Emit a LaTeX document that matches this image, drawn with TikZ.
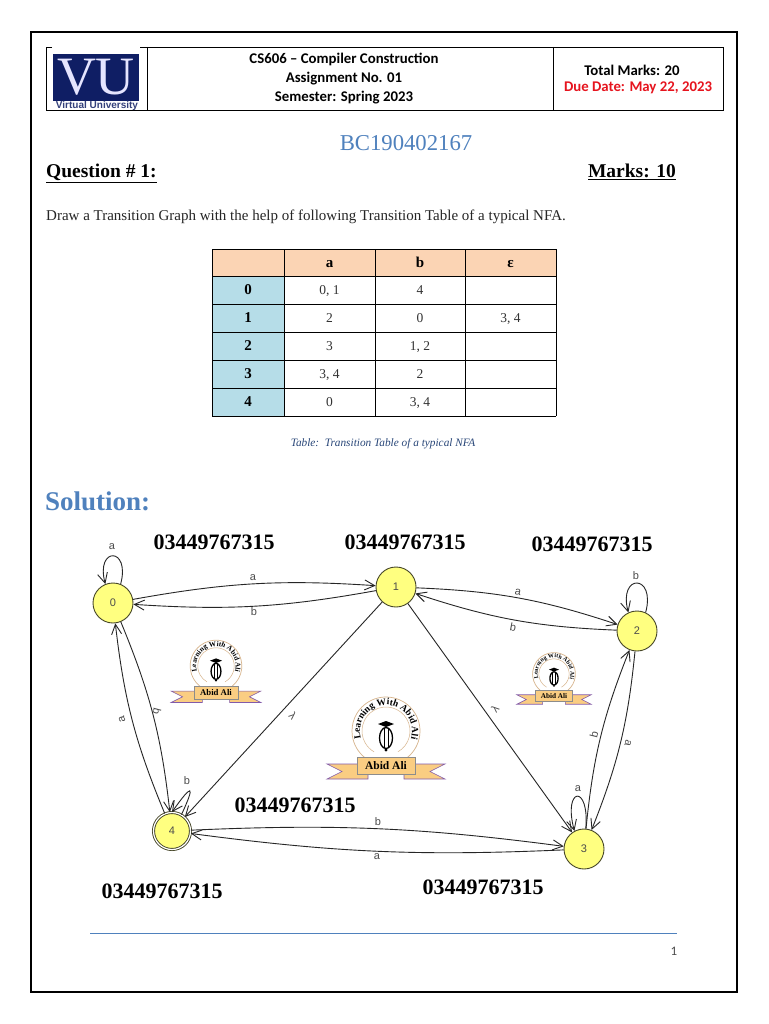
\documentclass[tikz,border=0pt]{standalone}
\usepackage{xcolor}
\usepackage{fontspec}
\setmainfont{Liberation Serif}
\newfontfamily\calibrifont{Carlito}
\newfontfamily\arialfont{Liberation Sans}
\usetikzlibrary{arrows.meta, calc, decorations.text, shapes.geometric}
\definecolor{vunavy}{RGB}{15, 30, 100}
\definecolor{headblue}{RGB}{79, 129, 189}
\definecolor{duered}{RGB}{230, 20, 30}
\definecolor{captionblue}{RGB}{40, 70, 120}
\definecolor{cellorange}{RGB}{251, 212, 180}
\definecolor{cellblue}{RGB}{182, 221, 232}
\definecolor{stateyellow}{RGB}{255, 255, 128}
\definecolor{stateedge}{RGB}{70, 70, 40}
\definecolor{ribbonfill}{RGB}{250, 205, 130}
\definecolor{ribbonedge}{RGB}{130, 90, 170}
\definecolor{ringtan}{RGB}{215, 180, 140}
\tikzset{
    statenode/.style={circle, draw=stateedge, fill=stateyellow, line width=0.9pt, minimum size=40pt,
                      inner sep=0pt, font=\arialfont\fontsize{11}{11}\selectfont, text=black!70},
    transition/.style={draw=black!85, line width=0.9pt, -{Straight Barb[length=10pt,width=10pt]}},
    edgelabel/.style={font=\arialfont\fontsize{11}{11}\selectfont, text=black!70, inner sep=0pt},
    phonelabel/.style={font=\bfseries\fontsize{22}{22}\selectfont, inner sep=0pt},
    headtext/.style={font=\calibrifont\bfseries\fontsize{14.8}{19}\selectfont, align=center, inner sep=0pt},
    cellhead/.style={font=\bfseries\fontsize{15}{15}\selectfont, inner sep=0pt, text height=9pt, text depth=0pt},
    celltext/.style={font=\fontsize{13.5}{13.5}\selectfont, text=black!80, inner sep=0pt, text height=9pt, text depth=0pt},
}
\newcommand{\logobadge}[4]{
    \begin{scope}[shift={(#2,#3)}, scale=#4]
        \draw[ringtan, line width=0.7pt] (52:34) arc (52:-232:34);
        \draw[ringtan, line width=0.5pt] (60:24) arc (60:-240:24);
        \pgfmathsetmacro{\logosize}{9.5*#4}
        \path[decorate, decoration={text along path, text align=center,
              text={|\bfseries\fontsize{\logosize}{\logosize}\selectfont|Learning With Abid Ali}}]
            (160:26) arc (160:380:26);
        \fill[black] (-8,-7) -- (0,-10) -- (8,-7) -- (0,-4) -- cycle;
        \draw[black, line width=1.3pt] (0,7) ellipse (6.5 and 10.5);
        \draw[black, line width=1pt] (-2,-3) -- (-2,17) (2,-3) -- (2,17);
        \fill[black] (0,19) circle (1.6);
        \fill[ribbonfill, draw=ribbonedge, line width=0.6pt]
            (-59,33) -- (-44,40.5) -- (-59,48) -- (-18,48) -- (-18,33) -- cycle
            (59,33) -- (44,40.5) -- (59,48) -- (18,48) -- (18,33) -- cycle;
        \pgfmathsetmacro{\ribbonsize}{11.5*#4}
        \node[fill=ribbonfill, draw=black!45, line width=0.6pt, minimum width=58*#4 pt, minimum height=17*#4 pt,
              inner sep=0pt, font=\bfseries\fontsize{\ribbonsize}{\ribbonsize}\selectfont] (#1) at (0,35) {Abid Ali};
    \end{scope}
}
\begin{document}
\begin{tikzpicture}[x=1pt, y=-1pt]
    \useasboundingbox (0,0) rectangle (768,1024);
    \fill[white] (0,0) rectangle (768,1024);
    \draw[black, line width=2pt] (31,32) rectangle (737,992);

    \draw[black, line width=0.9pt] (52,47) -- (46,47) -- (46,110) -- (723,110) -- (723,47) -- (140,47);
    \draw[black, line width=0.9pt] (147,47) -- (147,110) (553,47) -- (553,110);
    \fill[vunavy] (53,54) rectangle (139,101);
    \node[text=white!90!blue, inner sep=0pt, font=\fontsize{54}{54}\selectfont] (vulogo) at (96,77) {VU};
    \node[text=vunavy!85, inner sep=0pt, font=\arialfont\bfseries\fontsize{10}{10}\selectfont] (vuname) at (97,106) {Virtual University};
    \node[headtext] (course) at (344,79) {CS606 – Compiler Construction\\Assignment No. 01\\Semester: Spring 2023};
    \node[headtext] (marks) at (632,70) {Total Marks: 20};
    \node[headtext, text=duered] (duedate) at (638,88) {Due Date: May 22, 2023};

    \node[text=headblue, inner sep=0pt, font=\fontsize{22.7}{22.7}\selectfont] (rollno) at (406,143) {BC190402167};
    \node[anchor=base west, inner sep=0pt, font=\bfseries\fontsize{19.5}{19.5}\selectfont] (question) at (46,178) {\underline{Question \# 1:}};
    \node[anchor=base east, inner sep=0pt, font=\bfseries\fontsize{19.5}{19.5}\selectfont] (qmarks) at (676,178) {\underline{Marks: 10}};
    \node[anchor=west, inner sep=0pt, text=black!85, font=\fontsize{15}{15}\selectfont] (prompt) at (46,217)
        {Draw a Transition Graph with the help of following Transition Table of a typical NFA.};

    \fill[cellorange] (212,249) rectangle (556,276);
    \fill[cellblue] (212,276) rectangle (284,416);
    \foreach \ypos in {249,276,304,332,360,388,416}
        \draw[black, line width=0.8pt] (212,\ypos) -- (556,\ypos);
    \foreach \xpos in {212,284,375,465,556}
        \draw[black, line width=0.8pt] (\xpos,249) -- (\xpos,416);
    \node[cellhead] (heada) at (329.5,263) {a};
    \node[cellhead] (headb) at (420,263) {b};
    \node[cellhead] (heade) at (510.5,263) {ε};
    \foreach \rowname/\ypos/\cella/\cellb/\celle in {0/290/{0, 1}/4/{}, 1/318/2/0/{3, 4}, 2/346/3/{1, 2}/{}, 3/374/{3, 4}/2/{}, 4/402/0/{3, 4}/{}} {
        \node[cellhead] (row\rowname) at (248,\ypos) {\rowname};
        \node[celltext] (cella\rowname) at (329.5,\ypos) {\cella};
        \node[celltext] (cellb\rowname) at (420,\ypos) {\cellb};
        \node[celltext] (celle\rowname) at (510.5,\ypos) {\celle};
    }
    \node[text=captionblue, inner sep=0pt, font=\itshape\fontsize{11.3}{11.3}\selectfont] (caption) at (383,444) {Table:\, Transition Table of a typical NFA};

    \node[anchor=west, text=headblue, inner sep=0pt, font=\bfseries\fontsize{27}{27}\selectfont] (solution) at (45,501) {Solution:};

    \logobadge{logoleft}{216}{666}{0.76}
    \logobadge{logomid}{386}{731}{1}
    \logobadge{logoright}{554}{674}{0.63}

    \node[phonelabel] (phoneA) at (214,542) {03449767315};
    \node[phonelabel] (phoneB) at (405,542) {03449767315};
    \node[phonelabel] (phoneC) at (592,544) {03449767315};
    \node[phonelabel] (phoneD) at (295,805) {03449767315};
    \node[phonelabel] (phoneE) at (162,891) {03449767315};
    \node[phonelabel] (phoneF) at (483,887) {03449767315};

    \node[statenode] (state0) at (113,603) {0};
    \node[statenode] (state1) at (396,587) {1};
    \node[statenode] (state2) at (637,631) {2};
    \node[statenode] (state3) at (584,849) {3};
    \node[statenode, double, double distance=1.2pt, minimum size=37pt] (state4) at (172,831) {4};

    \draw[transition] (state0) to[bend left=7] (state1);
    \draw[transition] (state1) to[bend left=7] (state0);
    \draw[transition] (state1) to[bend left=8] (state2);
    \draw[transition] (state2) to[bend left=8] (state1);
    \draw[transition] (state2) to[bend left=8] (state3);
    \draw[transition] (state3) to[bend left=8] (state2);
    \draw[transition] (state3) to[bend left=5] (state4);
    \draw[transition] (state4) to[bend left=5] (state3);
    \draw[transition] (state0) to[bend left=8] (state4);
    \draw[transition] (state4) to[bend left=8] (state0);
    \draw[transition] (state1) -- (state4);
    \draw[transition] (state1) -- (state3);
    \draw[transition] (state0.68) to[out=75, in=105, looseness=6.5] (state0.112);
    \draw[transition] (state2.65) to[out=75, in=105, looseness=6] (state2.115);
    \draw[transition] (state3.85) to[out=85, in=105, looseness=10] (state3.118);
    \draw[transition] (state4.60) to[out=65, in=55, looseness=9] (state4.90);

    \node[edgelabel] (lab01) at (253,578) {a};
    \node[edgelabel] (lab10) at (254,612) {b};
    \node[edgelabel, rotate=-11] (lab12) at (518,592) {a};
    \node[edgelabel, rotate=-11] (lab21) at (513,627) {b};
    \node[edgelabel, rotate=-103] (lab23) at (628,743) {a};
    \node[edgelabel, rotate=76] (lab32) at (594,735) {b};
    \node[edgelabel] (lab34) at (377,857) {a};
    \node[edgelabel] (lab43) at (378,822) {b};
    \node[edgelabel, rotate=105] (lab40) at (122,719) {a};
    \node[edgelabel, rotate=-105] (lab04) at (157,711) {b};
    \node[edgelabel, rotate=-47] (lab14) at (293,716) {λ};
    \node[edgelabel, rotate=50] (lab13) at (495,709) {λ};
    \node[edgelabel] (lab00) at (112,547) {a};
    \node[edgelabel] (lab22) at (636,576) {b};
    \node[edgelabel] (lab33) at (578,789) {a};
    \node[edgelabel] (lab44) at (187,781) {b};

    \draw[headblue, line width=1pt] (90,933) -- (677,933);
    \node[text=black!70, inner sep=0pt, font=\calibrifont\fontsize{13}{13}\selectfont] (pageno) at (674,951) {1};
\end{tikzpicture}
\end{document}
